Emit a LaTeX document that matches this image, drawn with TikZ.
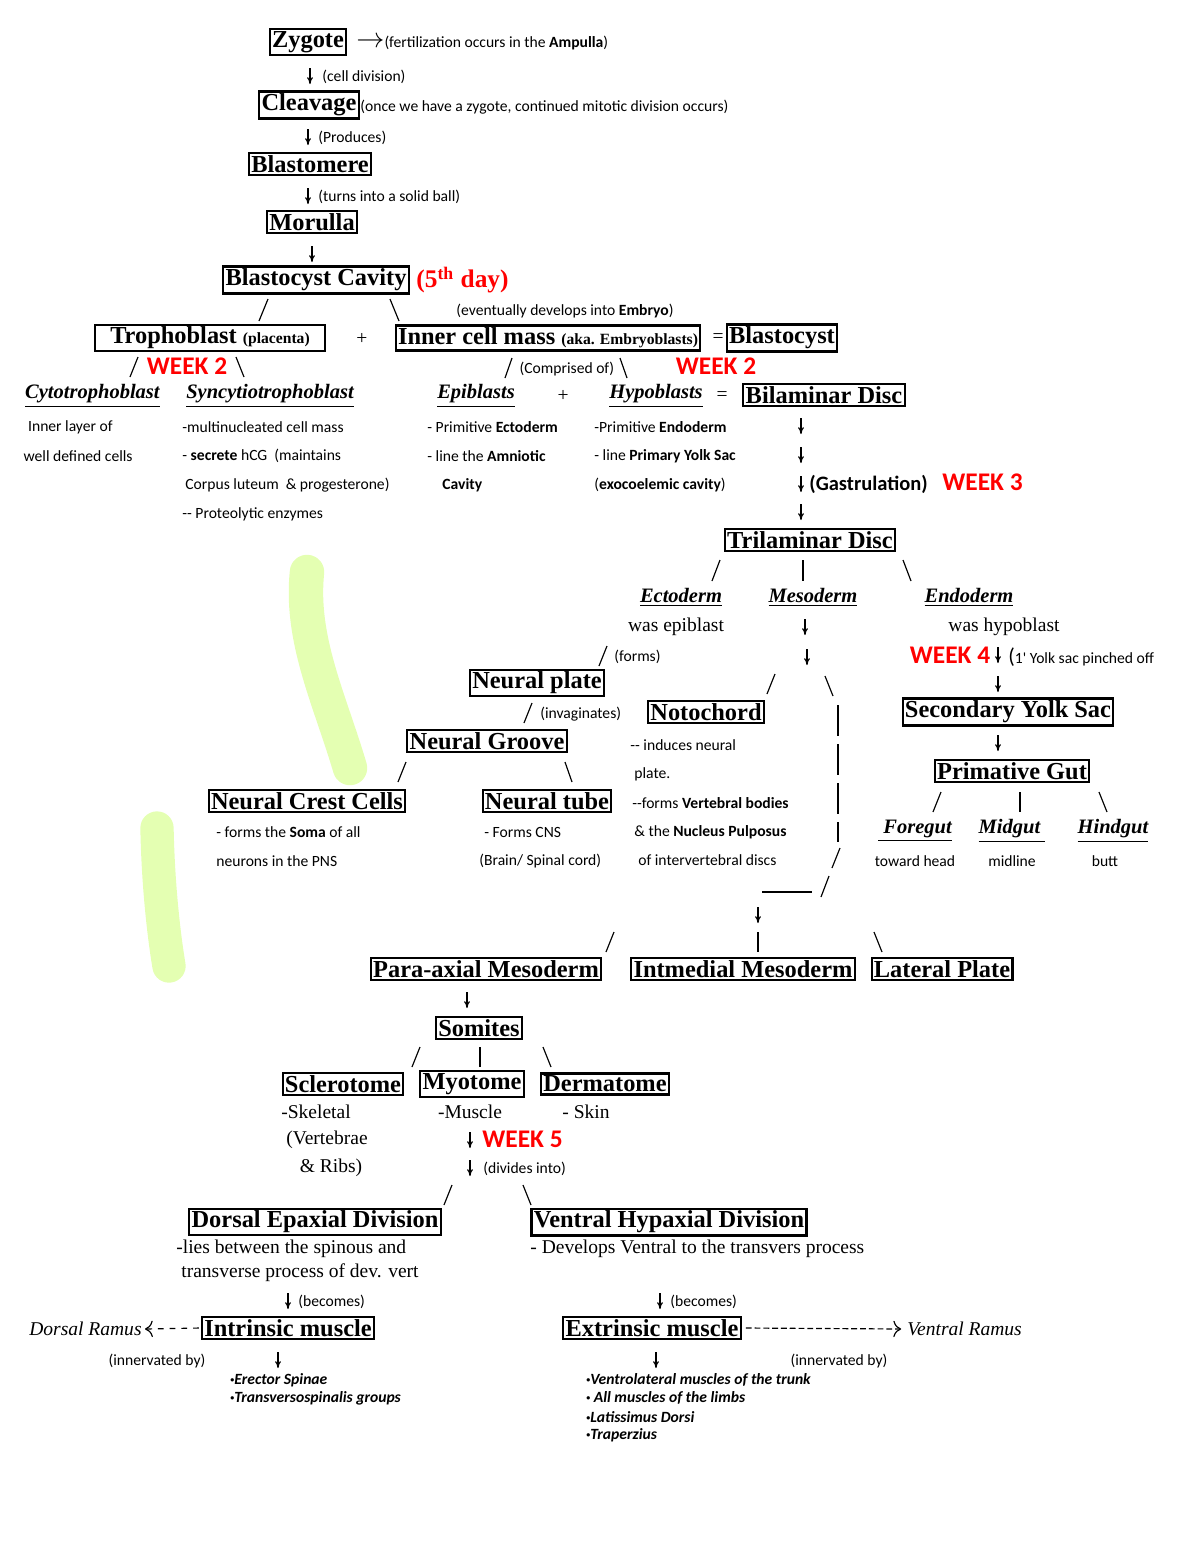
\documentclass[tikz,border=0pt]{standalone}
\usepackage{fontspec}
\setmainfont{Liberation Serif}
\newfontfamily\carl{Carlito}
\usetikzlibrary{arrows.meta}
\definecolor{hl}{RGB}{228,255,178}
\tikzset{
 bx/.style={draw,line width=1.1pt,inner sep=1.2pt,font=\fontsize{12.5}{13}\selectfont\bfseries},
 sm/.style={font=\carl\fontsize{8}{9}\selectfont,inner sep=0pt},
 md/.style={font=\fontsize{10}{11}\selectfont,inner sep=0pt},
 hd/.style={font=\fontsize{10.5}{11}\selectfont\bfseries\itshape,inner sep=0pt},
 wk/.style={font=\carl\fontsize{13}{14}\selectfont\bfseries,text=red,inner sep=0pt},
 bl/.style={font=\carl\fontsize{8}{9}\selectfont\bfseries\itshape,inner sep=0pt,anchor=west},
 sl/.style={line width=0.6pt},
 dn/.style={line width=0.6pt,-{To[length=3.5pt,width=3pt]}},
}
\newcommand{\dnar}[2]{\draw[dn] (#1,#2-8) -- (#1,#2+8);}
\newcommand{\bul}{\raisebox{0.25ex}{\scalebox{0.5}{\textbullet}}}
\begin{document}
\begin{tikzpicture}[x=0.018cm,y=-0.018cm]
\useasboundingbox (0,0) rectangle (1200,1553);
\draw[hl,line width=0.62cm,line cap=round] (307,572) .. controls (300,640) and (330,700) .. (350,768);
\draw[hl,line width=0.6cm,line cap=round] (157,828) .. controls (158,880) and (163,930) .. (169,966);
% top chain
\node[bx] (zy) at (308,42) {Zygote};
\node[sm,anchor=west] (zyt) at (356,43) {{\fontsize{14}{14}\selectfont$\rightarrow$}(fertilization occurs in the \textbf{Ampulla})};
\dnar{310}{76}
\node[sm,anchor=west] at (322,77) {(cell division)};
\node[bx] (cl) at (309,105) {Cleavage};
\node[sm,anchor=west] at (360,107) {(once we have a zygote, continued mitotic division occurs)};
\dnar{308}{137}
\node[sm,anchor=west] at (318,138) {(Produces)};
\node[bx] (bm) at (310,164) {Blastomere};
\dnar{308}{196}
\node[sm,anchor=west] at (318,197) {(turns into a solid ball)};
\node[bx] (mo) at (312,222) {Morulla};
\dnar{312}{254}
\node[bx] (bc) at (316,280) {Blastocyst Cavity};
\node[wk,anchor=west,font=\fontsize{13}{14}\selectfont\bfseries] at (416,280) {(5\textsuperscript{th} day)};
\draw[sl] (268,299) -- (259,321);
\draw[sl] (390,299) -- (399,321);
\node[sm] at (565,311) {(eventually develops into \textbf{Embryo})};
\node[bx,minimum width=4.14cm] (tr) at (210,338) {Trophoblast \fontsize{8}{9}\selectfont(placenta)};
\node[md] at (362,339) {+};
\node[bx] (icm) at (548,338) {Inner cell mass \fontsize{8}{9}\selectfont(aka. Embryoblasts)};
\node[md] at (718,338) {=};
\node[bx] (bcy) at (782,338) {Blastocyst};
\draw[sl] (138,357) -- (130,377);
\node[wk] at (187,366) {WEEK 2};
\draw[sl] (236,357) -- (244,377);
\node[sm] at (565,369) {\kern2pt(Comprised of)};
\draw[sl] (512,358) -- (505,378);
\draw[sl] (620,358) -- (627,378);
\node[wk] at (716,366) {WEEK 2};
% row of headings
\node[hd,anchor=east] at (160,396) {\underline{Cytotrophoblast}};
\node[hd] at (270,396) {\underline{Syncytiotrophoblast}};
\node[hd] at (476,396) {\underline{Epiblasts}};
\node[md] at (563,396) {+};
\node[hd] at (656,396) {\underline{Hypoblasts}};
\node[md] at (722,396) {=};
\node[bx] (bil) at (824,395) {Bilaminar Disc};
\node[sm,anchor=east] at (113,427) {Inner layer of};
\node[sm,anchor=east] at (133,456) {well defined cells};
\node[sm,anchor=west] at (182,427) {-multinucleated cell mass};
\node[sm,anchor=west] at (182,456) {- \textbf{secrete} hCG\ \ (maintains};
\node[sm,anchor=west] at (185,485) {Corpus luteum\ \ \& progesterone)};
\node[sm,anchor=west] at (182,514) {-- Proteolytic enzymes};
\node[sm,anchor=west] at (427,427) {- Primitive \textbf{Ectoderm}};
\node[sm,anchor=west] at (427,456) {- line the \textbf{Amniotic}};
\node[sm,anchor=west] at (442,485) {\textbf{Cavity}};
\node[sm,anchor=west] at (594,427) {-Primitive \textbf{Endoderm}};
\node[sm,anchor=west] at (594,456) {- line \textbf{Primary Yolk Sac}};
\node[sm,anchor=west] at (594,485) {(\textbf{exocoelemic cavity})};
\dnar{801}{426}
\dnar{801}{455}
\dnar{801}{484}
\node[font=\carl\fontsize{10.5}{11}\selectfont\bfseries,anchor=west,inner sep=0pt] at (809,484) {(Gastrulation)};
\node[wk,anchor=west] at (942,482) {WEEK 3};
\dnar{801}{512}
\node[bx] (tri) at (810,540) {Trilaminar Disc};
\draw[sl] (720,560) -- (712,581);
\draw[sl] (803,560) -- (803,581);
\draw[sl] (903,560) -- (911,581);
\node[hd] at (681,597) {\underline{Ectoderm}};
\node[hd] at (813,597) {\underline{Mesoderm}};
\node[hd] at (969,597) {\underline{Endoderm}};
\node[md] at (676,627) {was epiblast};
\node[md] at (1004,627) {was hypoblast};
\dnar{805}{627}
\dnar{807}{657}
\draw[sl] (607,646) -- (599,666);
\node[sm,anchor=west] at (614,657) {(forms)};
\node[wk] at (950,655) {WEEK 4};
\dnar{998}{655}
\node[sm,anchor=west] at (1008,657) {{\fontsize{11}{11}\selectfont(}1' Yolk sac pinched off};
\node[bx] (np) at (537,683) {Neural plate};
\dnar{998}{684}
\node[bx] (sys) at (1008,712) {Secondary Yolk Sac};
\draw[sl] (775,674) -- (767,694);
\draw[sl] (825,676) -- (833,696);
\draw[sl] (532,703) -- (524,723);
\node[sm,anchor=west] at (540,714) {(invaginates)};
\node[bx] (no) at (706,712) {Notochord};
\draw[line width=0.6pt,dash pattern=on 16pt off 4pt] (838,705) -- (838,842);
\dnar{998}{743}
\node[bx] (pg) at (1012,771) {Primative Gut};
\node[bx] (ng) at (487,741) {Neural Groove};
\node[sm,anchor=west] at (630,745) {-- induces neural};
\node[sm,anchor=west] at (634,774) {plate.};
\node[sm,anchor=west] at (632,803) {--forms \textbf{Vertebral bodies}};
\node[sm,anchor=west] at (634,832) {\& the \textbf{Nucleus Pulposus}};
\node[sm,anchor=west] at (638,860) {of intervertebral discs};
\draw[sl] (406,762) -- (398,782);
\draw[sl] (565,762) -- (572,782);
\node[bx] (ncc) at (307,801) {Neural Crest Cells};
\node[bx] (nt) at (547,801) {Neural tube};
\draw[sl] (941,792) -- (933,812);
\draw[sl] (1020,792) -- (1020,812);
\draw[sl] (1099,792) -- (1107,812);
\node[sm,anchor=west] at (216,832) {- forms the \textbf{Soma} of all};
\node[sm,anchor=west] at (216,861) {neurons in the PNS};
\node[sm,anchor=west] at (484,832) {- Forms CNS};
\node[sm,anchor=west] at (479,861) {(Brain/ Spinal cord)};
\node[hd] at (915,831) {\underline{\ Foregut}};
\node[hd] at (1012,831) {\underline{Midgut\ }};
\node[hd] at (1113,831) {\underline{Hindgut}};
\node[sm] at (915,861) {toward head};
\node[sm] at (1012,861) {midline};
\node[sm] at (1105,861) {butt};
\draw[sl] (840,848) -- (832,868);
\draw[sl] (829,876) -- (821,897);
\draw[sl] (762,892) -- (812,892);
\dnar{758}{915}
\draw[sl] (614,932) -- (606,952);
\draw[sl] (758,932) -- (758,952);
\draw[sl] (874,932) -- (882,952);
\node[bx] (pam) at (486,969) {Para-axial Mesoderm};
\node[bx] (im) at (743,969) {Intmedial Mesoderm};
\node[bx] (lp) at (942,969) {Lateral Plate};
\dnar{467}{1000}
\node[bx] (so) at (479,1028) {Somites};
\draw[sl] (420,1047) -- (412,1067);
\draw[sl] (480,1047) -- (480,1067);
\draw[sl] (543,1047) -- (551,1067);
\node[bx] (sc) at (343,1084) {Sclerotome};
\node[bx] (my) at (472,1084) {Myotome};
\node[bx] (de) at (605,1084) {Dermatome};
\node[md] at (316,1112) {-Skeletal};
\node[md] at (470,1112) {-Muscle};
\node[md] at (586,1112) {- Skin};
\node[md] at (327,1140) {(Vertebrae};
\node[md] at (331,1168) {\& Ribs)};
\dnar{470}{1140}
\node[wk,anchor=west] at (482,1139) {WEEK 5};
\dnar{470}{1168}
\node[sm,anchor=west] at (483,1169) {(divides into)};
\draw[sl] (452,1185) -- (444,1205);
\draw[sl] (523,1185) -- (531,1205);
\node[bx] (dep) at (315,1222) {Dorsal Epaxial Division};
\node[bx] (vhy) at (669,1222) {Ventral Hypaxial Division};
\node[md,anchor=west] at (176,1249) {-lies between the spinous and};
\node[md,anchor=west] at (181,1273) {transverse process of dev. vert};
\node[md,anchor=west] at (530,1249) {- Develops Ventral to the transvers process};
\dnar{288}{1301}
\node[sm,anchor=west] at (298,1302) {(becomes)};
\dnar{660}{1301}
\node[sm,anchor=west] at (670,1302) {(becomes)};
\node[bx] (int) at (288,1328) {Intrinsic muscle};
\node[bx] (ext) at (652,1328) {Extrinsic muscle};
\node[md,font=\fontsize{10}{11}\selectfont\itshape,anchor=east] (dr) at (142,1329) {Dorsal Ramus};
\draw[line width=0.6pt,dashed,{To[length=4pt]}-] (dr.east)++(3,0) -- (int.west);
\node[md,font=\fontsize{10}{11}\selectfont\itshape,anchor=west] (vr) at (907,1329) {Ventral Ramus};
\draw[line width=0.6pt,dash pattern=on 3pt off 1.5pt,-{To[length=4pt]}] (ext.east)++(4,0) -- ([xshift=-3]vr.west);
\node[sm] at (157,1361) {(innervated by)};
\dnar{278}{1360}
\dnar{656}{1360}
\node[sm] at (839,1361) {(innervated by)};
\node[bl] at (230,1380) {\bul Erector Spinae};
\node[bl] at (230,1398) {\bul Transversospinalis groups};
\node[bl] at (586,1380) {\bul Ventrolateral muscles of the trunk};
\node[bl] at (586,1398) {\bul\ All muscles of the limbs};
\node[bl] at (586,1417) {\bul Latissimus Dorsi};
\node[bl] at (586,1435) {\bul Traperzius};
\end{tikzpicture}
\end{document}
